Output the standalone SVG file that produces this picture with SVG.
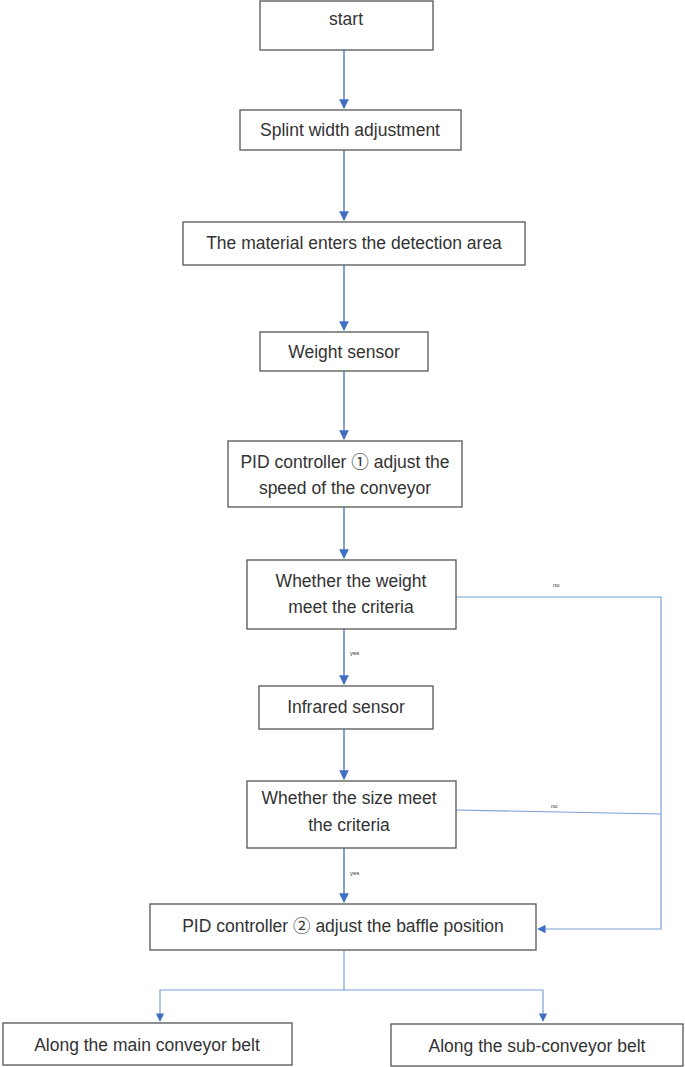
<svg xmlns="http://www.w3.org/2000/svg" width="685" height="1067" viewBox="0 0 685 1067">
<style>
.b{fill:#fff;stroke:#555;stroke-width:1.3}
.t{font-family:"Liberation Sans","Noto Sans CJK SC",sans-serif;font-size:17.5px;fill:#333;text-anchor:middle}
.s{font-family:"Liberation Sans",sans-serif;font-size:6px;fill:#333}
.c{fill:none;stroke:#4a78c0;stroke-width:1.4}
.c2{fill:none;stroke:#7a9fd6;stroke-width:1.2}
</style>
<defs><marker id="a" viewBox="0 0 10 10" refX="9" refY="5" markerWidth="7" markerHeight="7" orient="auto"><path d="M0,0L10,5L0,10z" fill="#3e6fc0"/></marker></defs>
<g id="connectors">
<path class="c" d="M344,50V108" marker-end="url(#a)"/>
<path class="c" d="M344,150V220" marker-end="url(#a)"/>
<path class="c" d="M344,265V330" marker-end="url(#a)"/>
<path class="c" d="M344,371V439" marker-end="url(#a)"/>
<path class="c" d="M344,507V558" marker-end="url(#a)"/>
<path class="c" d="M344,629V684" marker-end="url(#a)"/>
<path class="c" d="M344,729V779" marker-end="url(#a)"/>
<path class="c" d="M344,848V902" marker-end="url(#a)"/>
<path class="c2" d="M456,597H661V929H538" marker-end="url(#a)"/>
<path class="c2" d="M456,810L661,814"/>
<path class="c2" d="M344,950V990H543V1021" marker-end="url(#a)"/>
<path class="c2" d="M344,990H160V1021" marker-end="url(#a)"/>
<text class="s" x="553" y="587">no</text>
<text class="s" x="551" y="808">no</text>
<text class="s" x="350" y="655">yes</text>
<text class="s" x="350" y="875">yes</text>
</g>
<g id="start"><rect class="b" x="260" y="1" width="173" height="49"/><text class="t" x="346" y="25">start</text></g>
<g id="splint"><rect class="b" x="240" y="110" width="221" height="40"/><text class="t" x="350" y="136">Splint width adjustment</text></g>
<g id="material"><rect class="b" x="183" y="222" width="342" height="43"/><text class="t" x="354" y="249">The material enters the detection area</text></g>
<g id="weight"><rect class="b" x="260" y="332" width="168" height="39"/><text class="t" x="344" y="358">Weight sensor</text></g>
<g id="pid1"><rect class="b" x="228" y="441" width="234" height="66"/><text class="t" x="345" y="468">PID controller ① adjust the</text><text class="t" x="345" y="494">speed of the conveyor</text></g>
<g id="wcheck"><rect class="b" x="247" y="560" width="209" height="69"/><text class="t" x="351" y="587">Whether the weight</text><text class="t" x="351" y="613">meet the criteria</text></g>
<g id="infrared"><rect class="b" x="259" y="686" width="174" height="43"/><text class="t" x="346" y="713">Infrared sensor</text></g>
<g id="scheck"><rect class="b" x="247" y="781" width="209" height="67"/><text class="t" x="349" y="804">Whether the size meet</text><text class="t" x="349" y="831">the criteria</text></g>
<g id="pid2"><rect class="b" x="150" y="904" width="386" height="46"/><text class="t" x="343" y="932">PID controller ② adjust the baffle position</text></g>
<g id="main"><rect class="b" x="3" y="1023" width="289" height="42"/><text class="t" x="147" y="1051">Along the main conveyor belt</text></g>
<g id="sub"><rect class="b" x="391" y="1024" width="292" height="42"/><text class="t" x="537" y="1052">Along the sub-conveyor belt</text></g>
</svg>
